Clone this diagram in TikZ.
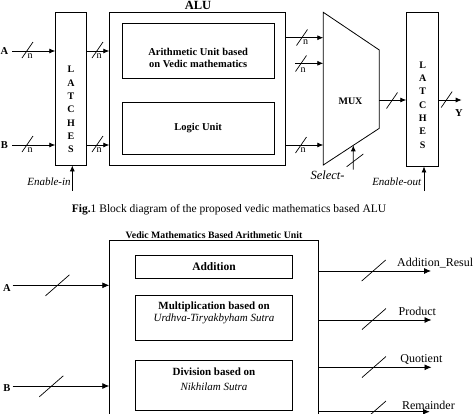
\documentclass[tikz,border=0pt]{standalone}
\usepackage{fontspec}
\setmainfont{Liberation Serif}
\usetikzlibrary{arrows.meta,calc}
\begin{document}
\begin{tikzpicture}[x=1pt,y=-1pt,line width=0.8pt,
  blk/.style={draw,rectangle,inner sep=0pt},
  arr/.style={-{Latex[length=6pt,width=5pt]}},
  arrb/.style={-{Latex[length=7pt,width=6pt]}},
  btxt/.style={font=\bfseries\fontsize{10.5}{12.6}\selectfont,align=center,inner sep=0pt},
  itxt/.style={font=\itshape\fontsize{11}{13}\selectfont,inner sep=0pt},
  latch/.style={font=\bfseries\fontsize{10}{13.3}\selectfont,align=center,inner sep=0pt},
  nlab/.style={font=\fontsize{10}{12}\selectfont,inner sep=0pt},
  olab/.style={font=\fontsize{12}{14}\selectfont,inner sep=0pt,anchor=west},
  bus/.pic={\draw[line width=0.7pt] (-5.5,8) -- (5.5,-8);},
  busbig/.pic={\draw[line width=0.7pt] (-12,10.5) -- (12,-10.5);}
]
\useasboundingbox (0,0) rectangle (474,413);
\clip (0,0) rectangle (474,413);

% ---------------- top diagram ----------------
\node[blk,minimum width=30.6pt,minimum height=152.7pt] (latL) at (71,88.65) {};
\node[latch] (latLt) at (71,109.5) {L\\A\\T\\C\\H\\E\\S};
\node[blk,minimum width=176pt,minimum height=152.7pt] (alu) at (197.7,88.65) {};
\node[font=\bfseries\fontsize{12.5}{14}\selectfont,inner sep=0pt] (alut) at (198,5.5) {ALU};
\node[blk,minimum width=151.7pt,minimum height=55.4pt] (arith) at (198.15,51) {};
\node[btxt] (aritht) at (198.15,58) {Arithmetic Unit based\\on Vedic mathematics};
\node[blk,minimum width=151.7pt,minimum height=52pt,btxt] (logic) at (198.15,128.3) {Logic Unit};

% MUX
\coordinate (m1) at (323.3,12.3);
\coordinate (m2) at (379.3,50);
\coordinate (m3) at (379.3,128.3);
\coordinate (m4) at (323.3,165);
\draw (m1) -- (m2) -- (m3) -- (m4) -- cycle;
\node[btxt,font=\bfseries\fontsize{10}{12}\selectfont] (muxt) at (350.5,101.7) {MUX};

\node[blk,minimum width=31.6pt,minimum height=153.7pt] (latR) at (422.5,89.15) {};
\node[latch] (latRt) at (422.7,105) {L\\A\\T\\C\\H\\E\\S};

% inputs
\node[btxt] (A) at (4.5,51) {A};
\node[btxt] (B) at (4.5,145) {B};
\coordinate (inA) at (12,51);
\coordinate (inB) at (12,145);
\draw[arr] (inA) -- (latL.west |- inA);
\draw[arr] (inB) -- (latL.west |- inB);
\pic at (27.5,50) {bus}; \node[nlab] at (30,56) {n};
\pic at (27.5,144) {bus}; \node[nlab] at (30,150) {n};

\coordinate (la) at (latL.east |- inA);
\coordinate (lb) at (latL.east |- inB);
\draw[arr] (la) -- (alu.west |- la);
\draw[arr] (lb) -- (alu.west |- lb);
\pic at (97.5,50) {bus}; \node[nlab] at (99,56) {n};
\pic at (97.5,144) {bus}; \node[nlab] at (99,150) {n};

% ALU to MUX
\coordinate (o1) at (alu.east |- 0,37.7);
\coordinate (o2) at (295,63.3);
\coordinate (o3) at (alu.east |- 0,145);
\draw[arr] (o1) -- (m1 |- o1);
\draw[arr] (o2) -- (m1 |- o2);
\draw[arr] (o3) -- (m1 |- o3);
\pic at (302,37.5) {bus}; \node[nlab] at (305.5,42) {n};
\pic at (301,63.5) {bus}; \node[nlab] at (303,70) {n};
\pic at (301,145) {bus}; \node[nlab] at (303,150.5) {n};

% MUX to latches, output
\coordinate (mo) at (m2 |- 0,100);
\draw[arr] (mo) -- (latR.west |- mo);
\pic at (392,100.5) {bus};
\coordinate (lo) at (latR.east |- mo);
\coordinate (yend) at (461.7,100);
\draw[arr] (lo) -- (yend);
\pic at (446.7,99.5) {bus};
\node[btxt] (Y) at (459,113) {Y};

% select
\coordinate (selTip) at ($(m4)!0.5357!(m3)$);
\coordinate (selB) at (353.3,169.5);
\draw[arr] (selB) -- (selTip);
\draw[line width=0.7pt] (346.7,166.7) -- (363.3,154);
\node[itxt,font=\itshape\fontsize{12.5}{14}\selectfont] (sel) at (327.5,175.7) {Select-};

% enables
\node[itxt] (eni) at (49,182) {Enable-in};
\coordinate (enib) at (72.3,190.5);
\draw[arr] (enib) -- (enib |- latL.south);
\node[itxt] (eno) at (396.7,181.7) {Enable-out};
\coordinate (enob) at (424,191);
\draw[arr] (enob) -- (enob |- latR.south);

% caption
\node[font=\fontsize{11.5}{13}\selectfont,inner sep=0pt] (cap) at (229,210)
  {\textbf{Fig.}1 Block diagram of the proposed vedic mathematics based ALU};

% ---------------- bottom diagram ----------------
\node[font=\bfseries\fontsize{9.8}{12}\selectfont,inner sep=0pt] (title) at (214,235)
  {Vedic Mathematics Based Arithmetic Unit};
\node[blk,minimum width=208.6pt,minimum height=200pt] (vau) at (214,340.7) {};
\node[blk,minimum width=156.6pt,minimum height=22.6pt,btxt,font=\bfseries\fontsize{11.5}{13}\selectfont] (add) at (214,267) {Addition};
\node[blk,minimum width=156.6pt,minimum height=44.3pt] (mul) at (214,317.85) {};
\node[btxt,font=\bfseries\fontsize{11}{12.3}\selectfont] (mult) at (214,313.2)
  {Multiplication based on\\\textit{\mdseries Urdhva-Tiryakbyham Sutra}};
\node[blk,minimum width=156.6pt,minimum height=50pt] (div) at (214,385) {};
\node[btxt,font=\bfseries\fontsize{11}{15.3}\selectfont] (divt) at (214,379.5)
  {Division based on\\\textit{\mdseries Nikhilam Sutra}};

\node[btxt] (A2) at (7,288.3) {A};
\node[btxt] (B2) at (7,387.7) {B};
\coordinate (a2) at (12.7,285.3);
\coordinate (b2) at (12.7,386);
\draw[arrb] (a2) -- (vau.west |- a2);
\draw[arrb] (b2) -- (vau.west |- b2);
\pic at (57.5,285.3) {busbig};
\pic at (51.3,386.3) {busbig};

\coordinate (p1) at (vau.east |- 0,271);
\coordinate (p2) at (vau.east |- 0,320);
\coordinate (p3) at (vau.east |- 0,367.3);
\coordinate (p4) at (vau.east |- 0,411.7);
\coordinate (q1) at (431,271);
\coordinate (q2) at (431.5,320);
\coordinate (q3) at (431.5,367.3);
\coordinate (q4) at (430,411.7);
\draw[arrb] (p1) -- (q1);
\draw[arrb] (p2) -- (q2);
\draw[arrb] (p3) -- (q3);
\draw[arrb,line width=1.3pt] (p4) -- (q4);
\pic at (373.7,270.5) {busbig};
\pic at (374,319) {busbig};
\pic at (374,367) {busbig};
\pic at (374,411.5) {busbig};
\node[olab] (r1) at (396.7,262.7) {Addition\_Resul};
\node[olab] (r2) at (398.3,311) {Product};
\node[olab] (r3) at (400,359.3) {Quotient};
\node[olab] (r4) at (401.7,405) {Remainder};
\end{tikzpicture}
\end{document}
